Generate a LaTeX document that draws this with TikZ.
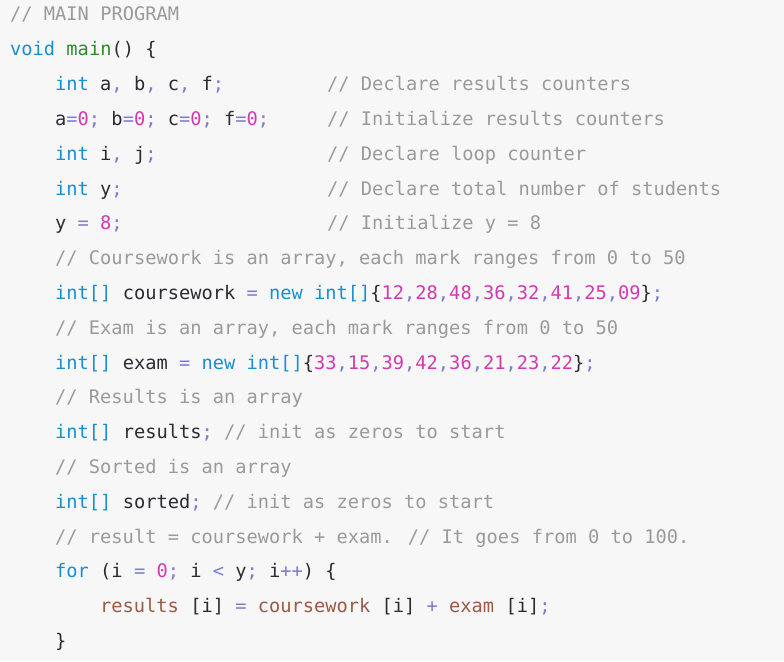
\documentclass[tikz,border=0pt]{standalone}
\usepackage{fontspec}
\setmainfont{DejaVu Sans Mono}
\definecolor{bgc}{HTML}{F7F7F8}
\definecolor{kw}{HTML}{1A8FD0}
\definecolor{fn}{HTML}{2E8B2E}
\definecolor{num}{HTML}{D23BB0}
\definecolor{op}{HTML}{7C7CD0}
\definecolor{vr}{HTML}{9A5A45}
\definecolor{cm}{HTML}{9A9A9A}
\definecolor{tx}{HTML}{2B2B33}
\newcommand{\K}[1]{\textcolor{kw}{#1}}
\newcommand{\FN}[1]{\textcolor{fn}{#1}}
\newcommand{\NU}[1]{\textcolor{num}{#1}}
\newcommand{\OP}[1]{\textcolor{op}{#1}}
\newcommand{\VR}[1]{\textcolor{vr}{#1}}
\newcommand{\CM}[1]{\textcolor{cm}{#1}}
\begin{document}
\begin{tikzpicture}[x=1pt,y=-1pt,
  ln/.style={anchor=base west,inner sep=0pt,font=\fontsize{18.7}{20}\selectfont,text=tx}]
\fill[bgc] (0,0) rectangle (784,661);
\useasboundingbox (0,0) rectangle (784,661);
\def\dy{34.8}
\def\ca{327}
\node[ln] (l1) at (10,21) {\CM{// MAIN PROGRAM}};
\node[ln] (l2) at (10,21+\dy) {\K{void} \FN{main}() \{};
\node[ln] (l3) at (55,21+2*\dy) {\K{int} a\OP{,} b\OP{,} c\OP{,} f\OP{;}};
\node[ln] (c3) at (\ca,21+2*\dy) {\CM{// Declare results counters}};
\node[ln] (l4) at (55,21+3*\dy) {a\OP{=}\NU{0}\OP{;} b\OP{=}\NU{0}\OP{;} c\OP{=}\NU{0}\OP{;} f\OP{=}\NU{0}\OP{;}};
\node[ln] (c4) at (\ca,21+3*\dy) {\CM{// Initialize results counters}};
\node[ln] (l5) at (55,21+4*\dy) {\K{int} i\OP{,} j\OP{;}};
\node[ln] (c5) at (\ca,21+4*\dy) {\CM{// Declare loop counter}};
\node[ln] (l6) at (55,21+5*\dy) {\K{int} y\OP{;}};
\node[ln] (c6) at (\ca,21+5*\dy) {\CM{// Declare total number of students}};
\node[ln] (l7) at (55,21+6*\dy) {y \OP{=} \NU{8}\OP{;}};
\node[ln] (c7) at (\ca,21+6*\dy) {\CM{// Initialize y = 8}};
\node[ln] (l8) at (55,21+7*\dy) {\CM{// Coursework is an array, each mark ranges from 0 to 50}};
\node[ln] (l9) at (55,21+8*\dy) {\K{int[]} coursework \OP{=} \K{new} \K{int[]}\{\NU{12}\OP{,}\NU{28}\OP{,}\NU{48}\OP{,}\NU{36}\OP{,}\NU{32}\OP{,}\NU{41}\OP{,}\NU{25}\OP{,}\NU{09}\}\OP{;}};
\node[ln] (l10) at (55,21+9*\dy) {\CM{// Exam is an array, each mark ranges from 0 to 50}};
\node[ln] (l11) at (55,21+10*\dy) {\K{int[]} exam \OP{=} \K{new} \K{int[]}\{\NU{33}\OP{,}\NU{15}\OP{,}\NU{39}\OP{,}\NU{42}\OP{,}\NU{36}\OP{,}\NU{21}\OP{,}\NU{23}\OP{,}\NU{22}\}\OP{;}};
\node[ln] (l12) at (55,21+11*\dy) {\CM{// Results is an array}};
\node[ln] (l13) at (55,21+12*\dy) {\K{int[]} results\OP{;} \CM{// init as zeros to start}};
\node[ln] (l14) at (55,21+13*\dy) {\CM{// Sorted is an array}};
\node[ln] (l15) at (55,21+14*\dy) {\K{int[]} sorted\OP{;} \CM{// init as zeros to start}};
\node[ln] (l16) at (55,21+15*\dy) {\CM{// result = coursework + exam. // It goes from 0 to 100.}};
\node[ln] (l17) at (55,21+16*\dy) {\K{for} (i \OP{=} \NU{0}\OP{;} i \OP{<} y\OP{;} i\OP{++}) \{};
\node[ln] (l18) at (100,21+17*\dy) {\VR{results} [i] \OP{=} \VR{coursework} [i] \OP{+} \VR{exam} [i]\OP{;}};
\node[ln] (l19) at (55,21+18*\dy) {\}};
\end{tikzpicture}
\end{document}
